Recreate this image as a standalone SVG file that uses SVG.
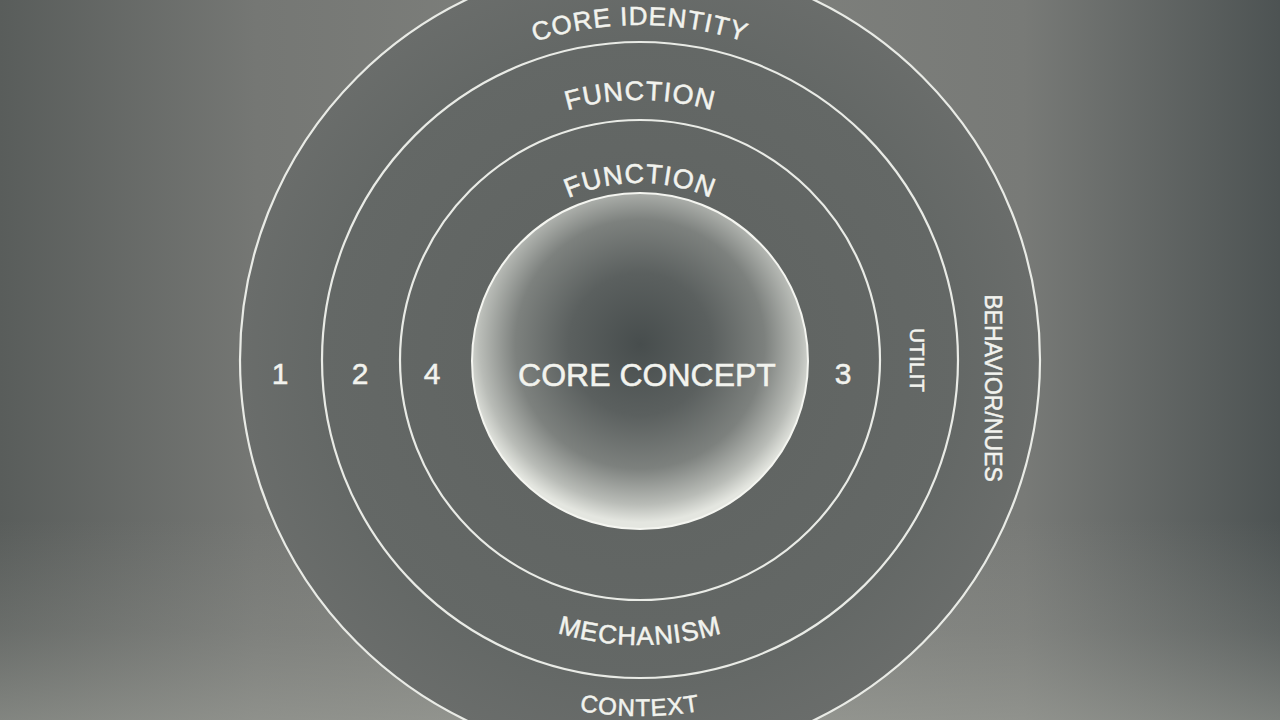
<svg xmlns="http://www.w3.org/2000/svg" width="1280" height="720" viewBox="0 0 1280 720">
<defs>
<linearGradient id="bgH" x1="0" y1="0" x2="1" y2="0">
<stop offset="0" stop-color="#595d5b"/>
<stop offset="0.2" stop-color="#757774"/>
<stop offset="0.5" stop-color="#80827e"/>
<stop offset="0.8" stop-color="#787a77"/>
<stop offset="1" stop-color="#4d5353"/>
</linearGradient>
<linearGradient id="floor" x1="0" y1="0" x2="0" y2="1">
<stop offset="0" stop-color="#9c9e98" stop-opacity="0"/>
<stop offset="0.55" stop-color="#9c9e98" stop-opacity="0.25"/>
<stop offset="1" stop-color="#a4a69f" stop-opacity="0.55"/>
</linearGradient>
<radialGradient id="disc" cx="0.5" cy="0.5" r="0.5">
<stop offset="0" stop-color="#5e6260"/>
<stop offset="0.8" stop-color="#646866"/>
<stop offset="1" stop-color="#6a6d6b"/>
</radialGradient>
<radialGradient id="sphere" cx="0.5" cy="0.45" r="0.53">
<stop offset="0" stop-color="#474d4d"/>
<stop offset="0.4" stop-color="#5b605f"/>
<stop offset="0.7" stop-color="#7d817e"/>
<stop offset="0.9" stop-color="#b9bcb7"/>
<stop offset="1" stop-color="#e4e6e0"/>
</radialGradient>
<path id="pCoreId" d="M 305 360 A 335 335 0 0 1 975 360"/>
<path id="pFunc1" d="M 380 360 A 260 260 0 0 1 900 360"/>
<path id="pFunc2" d="M 463 360 A 177 177 0 0 1 817 360"/>
<path id="pMech" d="M 355 360 A 285 285 0 0 0 925 360"/>
<path id="pCtx" d="M 284 360 A 356 356 0 0 0 996 360"/>
<style>
.ring{fill:none;stroke:#e9ebe6;stroke-width:2.2}
.disc{fill:url(#disc);stroke:#e9ebe6;stroke-width:2.2}
.lbl{font-family:"Liberation Sans","DejaVu Sans",sans-serif;fill:#f2f3ee;stroke:#f2f3ee;stroke-width:0.5;text-anchor:middle}
.num{font-size:30px}
</style>
</defs>
<rect width="1280" height="720" fill="url(#bgH)"/>
<rect y="520" width="1280" height="200" fill="url(#floor)"/>
<g id="outer-ring">
<circle cx="640" cy="360" r="400" class="disc"/>
<text class="lbl" font-size="26" letter-spacing="1"><textPath href="#pCoreId" startOffset="50%">CORE IDENTITY</textPath></text>
<text class="lbl" font-size="24" letter-spacing="1"><textPath href="#pCtx" startOffset="50%">CONTEXT</textPath></text>
<text class="lbl num" x="280" y="384">1</text>
<text class="lbl" font-size="23" transform="translate(985 388) rotate(90)">BEHAVIOR/NUES</text>
</g>
<g id="ring-2">
<circle cx="640" cy="360" r="318" class="ring"/>
<text class="lbl" font-size="27" letter-spacing="1"><textPath href="#pFunc1" startOffset="50%">FUNCTION</textPath></text>
<text class="lbl" font-size="26" letter-spacing="1"><textPath href="#pMech" startOffset="50%">MECHANISM</textPath></text>
<text class="lbl num" x="360" y="384">2</text>
</g>
<g id="ring-3">
<circle cx="640" cy="360" r="240" class="ring"/>
<text class="lbl" font-size="27" letter-spacing="1"><textPath href="#pFunc2" startOffset="50%">FUNCTION</textPath></text>
<text class="lbl num" x="432" y="384">4</text>
<text class="lbl num" x="843" y="384">3</text>
<text class="lbl" font-size="21" transform="translate(910 360) rotate(90)">UTILIT</text>
</g>
<g id="core">
<circle cx="640" cy="361" r="168" fill="url(#sphere)" stroke="#f4f5f0" stroke-width="2"/>
<text class="lbl" x="647" y="386" font-size="32">CORE CONCEPT</text>
</g>
<g id="connectors"/>
</svg>
